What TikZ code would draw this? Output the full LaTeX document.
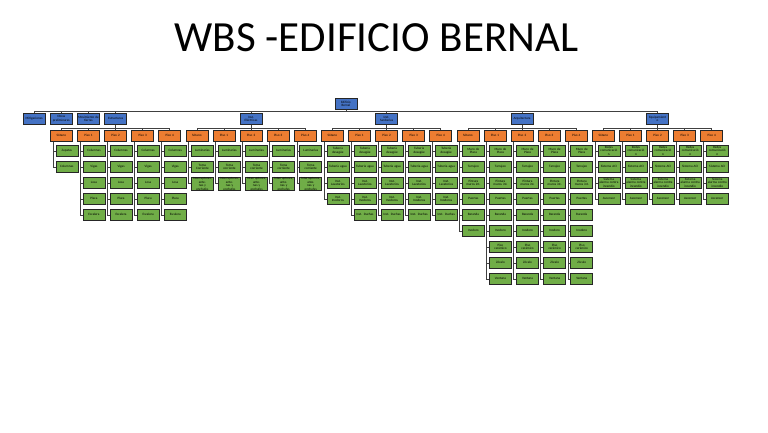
\documentclass[tikz,border=0pt]{standalone}
\usepackage{fontspec}
\setmainfont{Carlito}
\usepackage{tikz}
\usetikzlibrary{calc}

\definecolor{wbsblue}{HTML}{4472C4}
\definecolor{wbsorange}{HTML}{ED7D31}
\definecolor{wbsgreen}{HTML}{70AD47}

\newcommand{\estsot}{Zapatas,Columnas}
\newcommand{\estpiso}{Columnas,Vigas,Losa,Placa,Escalera}
\newcommand{\elesot}{Luminarias,Toma\\Corriente,{Interruptores, ante-\\nas y\\enchufes}}
\newcommand{\elepiso}{Luminarias,Toma\\corriente,{Interruptores, ante-\\nas y\\enchufes}}
\newcommand{\sansot}{Tubería\\desagüe,Tubería agua,Inst.\\Lavatorios,Inst.\\Inodoros}
\newcommand{\sanpiso}{Tubería\\desagüe,Tubería agua,Inst.\\Lavatorios,Inst.\\Inodoros,Inst. Duchas}
\newcommand{\arqsot}{Muro de\\Placa,Tarrajeo,Pintura\\muros int.,Puertas,Baranda,Inodoro}
\newcommand{\arqpiso}{Muro de\\Placa,Tarrajeo,Pintura\\muros int.,Puertas,Baranda,Inodoro,Piso\\cerámico,Zócalo,Ventana}
\newcommand{\equisot}{Redes\\comunicació\\n,Sistema ACI,Sistema\\alarma contra\\incendio,Ascensor}

\newcommand{\piso}[4]{%
  \node[orangebox] (f#1) at ({50+27.1*#1}, 130) {#2};
  \draw[link] (#4.south) -- ++(0, 4) -| (f#1.north);
  \foreach \t [count=\k] in #3 {
    \node[greenbox] (t#1-\k) at ({55.5+27.1*#1}, {145+16*(\k-1)}) {\t};
    \draw[link] ([xshift=3pt]f#1.south west) |- (t#1-\k.west);
  }
}
\newcommand{\grupo}[4]{%
  \piso{#1}{Sótano}{#3}{#2}
  \foreach \f in {1,...,4} {
    \pgfmathtruncatemacro{\i}{#1+\f}
    \piso{\i}{Piso \f}{#4}{#2}
  }
}

\begin{document}
\begin{tikzpicture}[x=1pt, y=-1pt,
  box/.style={draw=black!85, line width=0.7pt, inner sep=0pt, anchor=north west,
    minimum width=22pt, minimum height=11pt, text width=21pt, align=center,
    font=\fontsize{3.3}{3.6}\selectfont},
  bluebox/.style={box, fill=wbsblue},
  orangebox/.style={box, fill=wbsorange},
  greenbox/.style={box, fill=wbsgreen},
  link/.style={draw=black!75, line width=0.7pt}]
\path[use as bounding box, fill=white] (0, 0) rectangle (768, 433);
\node (titulo) at (376.5, 38) {\fontsize{43}{50}\selectfont WBS -EDIFICIO BERNAL};
\node[bluebox] (bernal) at (334.5, 98) {Edificio\\Bernal};
\node[bluebox] (mit) at (22.9, 113) {Mitigaciones};
\node[bluebox] (obras) at (50, 113) {Obras\\preliminares};
\node[bluebox] (mov) at (77.1, 113) {Movimiento de\\tierras};
\node[bluebox] (estr) at (104.2, 113) {Estructuras};
\node[bluebox] (elec) at (239.7, 113) {Inst.\\Eléctricas};
\node[bluebox] (sani) at (375.2, 113) {Inst.\\Sanitarias};
\node[bluebox] (arq) at (510.7, 113) {Arquitectura};
\node[bluebox] (equi) at (646.2, 113) {Equipamient\\o};
\foreach \n in {mit, obras, mov, estr, elec, sani, arq, equi}
  \draw[link] (bernal.south) -- ++(0, 2) -| (\n.north);
\grupo{0}{estr}{\estsot}{\estpiso}
\grupo{5}{elec}{\elesot}{\elepiso}
\grupo{10}{sani}{\sansot}{\sanpiso}
\grupo{15}{arq}{\arqsot}{\arqpiso}
\grupo{20}{equi}{\equisot}{\equisot}
\end{tikzpicture}
\end{document}
